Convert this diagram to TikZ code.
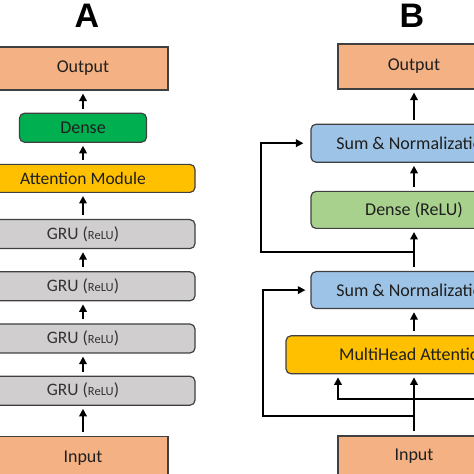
\documentclass[tikz,border=0pt]{standalone}
\usepackage{fontspec}
\setmainfont{Carlito}
\newfontfamily\labelfont{Liberation Sans}
\usepackage{tikz}
\usetikzlibrary{arrows.meta, calc, positioning}
\usepackage{xcolor}
\definecolor{salmon}{HTML}{F4B183}
\definecolor{greenA}{HTML}{00B050}
\definecolor{greenB}{HTML}{A9D18E}
\definecolor{gold}{HTML}{FFC000}
\definecolor{greyA}{HTML}{D0CECE}
\definecolor{blueB}{HTML}{9DC3E6}
\definecolor{edgegrey}{HTML}{404040}

\begin{document}
\begin{tikzpicture}[
    x=1pt, y=1pt,
    node distance=22pt,
    box/.style={rectangle, draw=edgegrey, line width=1.2pt, inner sep=0pt, align=center, text=black!88, font=\fontsize{18}{20}\selectfont},
    rbox/.style={box, rounded corners=5pt},
    gru/.style={rbox, fill=greyA, minimum width=224pt, minimum height=29pt, text=black!80, font=\fontsize{17.5}{19}\selectfont},
    title/.style={font=\labelfont\bfseries\fontsize{34}{36}\selectfont},
    arrow/.style={-{Triangle[length=7.5pt, width=7.5pt]}, line width=1.8pt, shorten >=3pt, shorten <=4pt}
]
    \useasboundingbox (0,0) rectangle (474,474);
    \clip (0,0) rectangle (474,474);

    % 标题
    \node[title] (titleA) at (87,458) {A};
    \node[title] (titleB) at (412,458) {B};

    % 模型 A
    \node[box, fill=salmon, minimum width=170pt, minimum height=43pt] (outA) at (83,405.5) {Output};
    \node[rbox, fill=greenA, minimum width=127pt, minimum height=29pt, below=of outA] (denseA) {Dense};
    \node[rbox, fill=gold, minimum width=224pt, minimum height=28pt, font=\fontsize{17.5}{19}\selectfont, below=21pt of denseA] (attnA) {Attention Module};
    \node[gru, below=26pt of attnA] (gru1) {GRU ({\fontsize{12.5}{14}\selectfont ReLU})};
    \node[gru, below=of gru1] (gru2) {GRU ({\fontsize{12.5}{14}\selectfont ReLU})};
    \node[gru, below=of gru2] (gru3) {GRU ({\fontsize{12.5}{14}\selectfont ReLU})};
    \node[gru, below=of gru3] (gru4) {GRU ({\fontsize{12.5}{14}\selectfont ReLU})};
    \node[box, fill=salmon, minimum width=170pt, minimum height=44pt, below=30pt of gru4] (inA) {Input};

    % 箭头 A
    \draw[arrow] (denseA) -- (outA);
    \draw[arrow] (attnA) -- (denseA);
    \draw[arrow] (gru1) -- (attnA);
    \draw[arrow] (gru2) -- (gru1);
    \draw[arrow] (gru3) -- (gru2);
    \draw[arrow] (gru4) -- (gru3);
    \draw[arrow] (inA) -- (gru4);

    % 模型 B
    \node[box, fill=salmon, minimum width=152pt, minimum height=45pt] (outB) at (414,407.5) {Output};
    \node[rbox, fill=blueB, minimum width=206pt, minimum height=38pt, below=34pt of outB] (sum1) {Sum \& Normalization};
    \node[rbox, fill=greenB, minimum width=206pt, minimum height=37pt, below=28pt of sum1] (denseB) {Dense (ReLU)};
    \node[rbox, fill=blueB, minimum width=206pt, minimum height=37pt, below=42pt of denseB] (sum2) {Sum \& Normalization};
    \node[rbox, fill=gold, minimum width=256pt, minimum height=38pt, below=26pt of sum2] (mhB) {MultiHead Attention};
    \node[box, fill=salmon, minimum width=152pt, minimum height=40pt, below=61pt of mhB] (inB) {Input};

    % 箭头 B
    \draw[arrow] (sum1) -- (outB);
    \draw[arrow] (denseB) -- (sum1);
    \draw[arrow] (sum2) -- (denseB);
    \draw[arrow] (mhB) -- (sum2);
    \draw[arrow] (inB) -- (mhB);

    % 残差连接
    \coordinate (skip1) at ($(sum2.north)+(0,19)$);
    \coordinate (skip2) at ($(inB.north)+(0,19)$);
    \coordinate (fork) at ($(inB.north)+(0,36)$);
    \draw[arrow, shorten <=0pt, shorten >=7pt] (skip1) -- ++(-153,0) |- (sum1.west);
    \draw[arrow, shorten <=0pt, shorten >=5pt] (skip2) -- ++(-151,0) |- (sum2.west);
    \draw[arrow, shorten <=0pt] (fork) -| ($(mhB.south)+(-76,0)$);
    \draw[arrow, shorten <=0pt] (fork) -| ($(mhB.south)+(78,0)$);
\end{tikzpicture}
\end{document}
